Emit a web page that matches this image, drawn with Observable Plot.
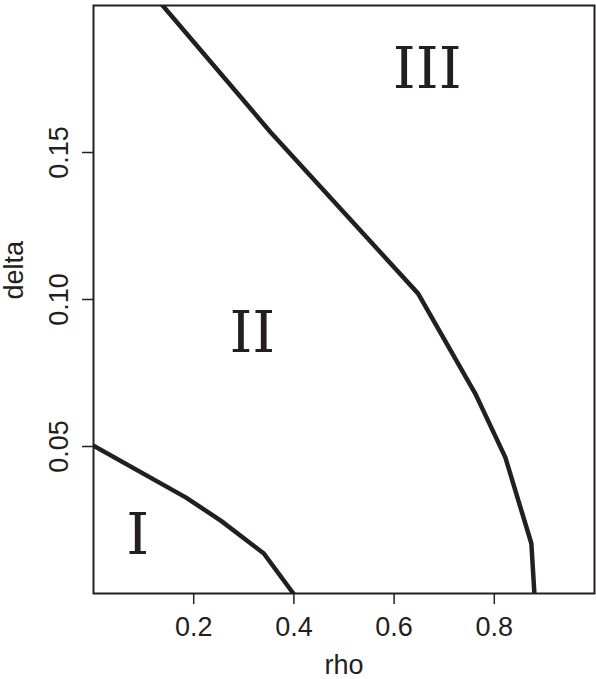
<!DOCTYPE html>
<html>
<head>
<meta charset="utf-8">
<script src="https://cdn.jsdelivr.net/npm/d3@7"></script>
<script src="https://cdn.jsdelivr.net/npm/@observablehq/plot@0.6"></script>
<style>
  html, body { margin: 0; padding: 0; background: #fff; }
  #chart svg { display: block; }
</style>
</head>
<body>
<div id="chart"></div>
<script>
// Boundary between region I and II
const rhoI = [0, 0.184, 0.254, 0.340, 0.399];
const deltaI = [0.0503, 0.0327, 0.0248, 0.0136, 0];
// Boundary between region II and III
const rhoII = [0.138, 0.353, 0.648, 0.762, 0.822, 0.874, 0.880];
const deltaII = [0.200, 0.157, 0.102, 0.068, 0.0463, 0.017, 0];
// Region labels (rho centre, delta baseline)
const regionNames = ["I", "II", "III"];
const regionRho = [0.088, 0.317, 0.666];
const regionDelta = [0.0136, 0.082, 0.172];
// Tick values
const xTicks = [0.2, 0.4, 0.6, 0.8];
const yTicks = [0.05, 0.10, 0.15];
const yTickLabels = ["0.05", "0.10", "0.15"];

const ink = "#231f20";
const curveI = rhoI.map((r, i) => ({rho: r, delta: deltaI[i]}));
const curveII = rhoII.map((r, i) => ({rho: r, delta: deltaII[i]}));
const regions = regionNames.map((n, i) => ({name: n, rho: regionRho[i], delta: regionDelta[i]}));

const chart = Plot.plot({
  width: 596,
  height: 679,
  marginLeft: 93,
  marginRight: 2,
  marginTop: 5,
  marginBottom: 86,
  style: {fontFamily: "'Liberation Sans', Arial, sans-serif", color: ink, background: "#fff"},
  x: {domain: [0, 1]},
  y: {domain: [0, 0.2]},
  marks: [
    Plot.axisX({ticks: xTicks, tickSize: 11, tickPadding: 12, fontSize: 27, label: null, tickFormat: d3.format(".1f"), strokeWidth: 1.5}),
    Plot.axisY({ticks: yTicks, tickSize: 11, tickPadding: 15, tickRotate: -90, fontSize: 27, label: null,
      tickFormat: (d) => yTickLabels[yTicks.findIndex(t => Math.abs(t - d) < 1e-9)], strokeWidth: 1.5}),
    Plot.line(curveI, {x: "rho", y: "delta", stroke: ink, strokeWidth: 4.5, strokeLinejoin: "miter", clip: true}),
    Plot.line(curveII, {x: "rho", y: "delta", stroke: ink, strokeWidth: 4.5, strokeLinejoin: "miter", clip: true}),
    Plot.text(regions, {x: "rho", y: "delta", text: "name", fontFamily: "'DejaVu Serif', serif", fontSize: 58,
      lineAnchor: "bottom", textAnchor: "middle", fill: ink}),
    Plot.frame({stroke: ink, strokeWidth: 2}),
    Plot.text(["rho"], {frameAnchor: "bottom", dy: 80, lineAnchor: "bottom", fontSize: 27, fill: ink}),
    Plot.text(["delta"], {frameAnchor: "left", dx: -71, rotate: -90, lineAnchor: "bottom", fontSize: 27, fill: ink})
  ]
});
document.getElementById("chart").appendChild(chart);
</script>
</body>
</html>
